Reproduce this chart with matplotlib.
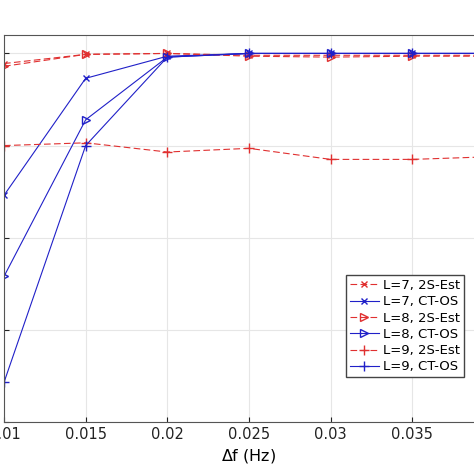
import matplotlib
matplotlib.use("Agg")
import matplotlib.pyplot as plt

df = [0.01, 0.015, 0.02, 0.025, 0.03, 0.035, 0.04]
l7_2s = [0.989, 0.999, 1.0, 0.998, 0.998, 0.998, 0.998]
l7_ct = [0.846, 0.973, 0.997, 1.0, 1.0, 1.0, 1.0]
l8_2s = [0.986, 0.999, 1.0, 0.997, 0.996, 0.997, 0.997]
l8_ct = [0.758, 0.928, 0.996, 1.0, 1.0, 1.0, 1.0]
l9_2s = [0.900, 0.903, 0.893, 0.897, 0.885, 0.885, 0.888]
l9_ct = [0.643, 0.900, 0.996, 1.0, 1.0, 1.0, 1.0]

fig = plt.figure(figsize=(4.74, 4.74), dpi=100)
ax = fig.add_axes([4/474, 52/474, 490/474, 387/474])

red = "#e03030"
blue = "#2020c8"
dash = (0, (6, 3))
ax.plot(df, l7_2s, linestyle=dash, color=red, marker="x", lw=0.8, ms=5, mfc="none", label="L=7, 2S-Est")
ax.plot(df, l7_ct, "-", color=blue, marker="x", lw=0.8, ms=5, mfc="none", label="L=7, CT-OS")
ax.plot(df, l8_2s, linestyle=dash, color=red, marker=">", lw=0.8, ms=5.5, mfc="none", label="L=8, 2S-Est")
ax.plot(df, l8_ct, "-", color=blue, marker=">", lw=0.8, ms=5.5, mfc="none", label="L=8, CT-OS")
ax.plot(df, l9_2s, linestyle=dash, color=red, marker="+", lw=0.8, ms=7, label="L=9, 2S-Est")
ax.plot(df, l9_ct, "-", color=blue, marker="+", lw=0.8, ms=7, label="L=9, CT-OS")

ax.set_xlim(0.01, 0.04)
ax.set_ylim(0.6, 1.02)
ax.set_xticks([0.01, 0.015, 0.02, 0.025, 0.03, 0.035, 0.04])
ax.set_xticklabels(["0.01", "0.015", "0.02", "0.025", "0.03", "0.035", "0.04"])
ax.set_yticks([0.6, 0.7, 0.8, 0.9, 1.0])
ax.set_yticklabels([])
ax.grid(True, color="#e6e6e6", lw=0.8)
ax.tick_params(direction="in", labelsize=10.5, colors="#222222")
for s in ax.spines.values():
    s.set_color("#555555")
ax.set_xlabel(r"$\Delta$f (Hz)", fontsize=11.5)
ax.legend(loc="lower left", bbox_to_anchor=(335/490, 38/387), fontsize=9.5, fancybox=False,
          edgecolor="#444444", framealpha=1, handlelength=2.2, borderpad=0.3, labelspacing=0.25,
          handletextpad=0.3)
fig.savefig("out.png", dpi=100)
